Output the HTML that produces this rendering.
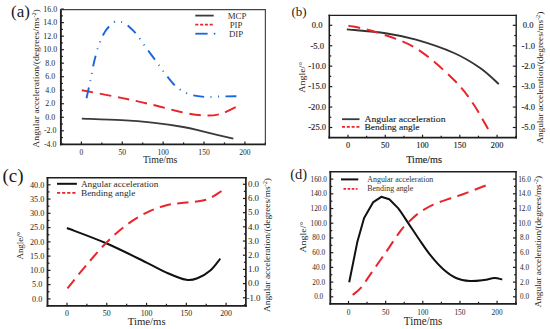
<!DOCTYPE html>
<html><head><meta charset="utf-8"><style>
html,body{margin:0;padding:0;background:#fff;}
svg{display:block;}
text{font-family:"Liberation Serif", serif;}
</style></head><body>
<svg width="550" height="329" viewBox="0 0 550 329">
<rect width="550" height="329" fill="#fff"/>
<line x1="60.9" y1="8.95" x2="60.9" y2="145.3" stroke="#1e1e1e" stroke-width="1.9"/>
<line x1="59.949999999999996" y1="144.4" x2="266.0" y2="144.4" stroke="#1e1e1e" stroke-width="1.8"/>
<line x1="59.949999999999996" y1="9.6" x2="266.0" y2="9.6" stroke="#444" stroke-width="1.3"/>
<line x1="265.4" y1="8.95" x2="265.4" y2="145.3" stroke="#4a4a4a" stroke-width="1.2"/>
<line x1="60.9" y1="144.30" x2="63.9" y2="144.30" stroke="#1e1e1e" stroke-width="1.2"/>
<line x1="60.9" y1="130.78" x2="63.9" y2="130.78" stroke="#1e1e1e" stroke-width="1.2"/>
<line x1="60.9" y1="117.26" x2="63.9" y2="117.26" stroke="#1e1e1e" stroke-width="1.2"/>
<line x1="60.9" y1="103.74" x2="63.9" y2="103.74" stroke="#1e1e1e" stroke-width="1.2"/>
<line x1="60.9" y1="90.22" x2="63.9" y2="90.22" stroke="#1e1e1e" stroke-width="1.2"/>
<line x1="60.9" y1="76.70" x2="63.9" y2="76.70" stroke="#1e1e1e" stroke-width="1.2"/>
<line x1="60.9" y1="63.18" x2="63.9" y2="63.18" stroke="#1e1e1e" stroke-width="1.2"/>
<line x1="60.9" y1="49.66" x2="63.9" y2="49.66" stroke="#1e1e1e" stroke-width="1.2"/>
<line x1="60.9" y1="36.14" x2="63.9" y2="36.14" stroke="#1e1e1e" stroke-width="1.2"/>
<line x1="60.9" y1="22.62" x2="63.9" y2="22.62" stroke="#1e1e1e" stroke-width="1.2"/>
<line x1="60.9" y1="9.10" x2="63.9" y2="9.10" stroke="#1e1e1e" stroke-width="1.2"/>
<line x1="60.9" y1="137.54" x2="62.9" y2="137.54" stroke="#1e1e1e" stroke-width="1.2"/>
<line x1="60.9" y1="124.02" x2="62.9" y2="124.02" stroke="#1e1e1e" stroke-width="1.2"/>
<line x1="60.9" y1="110.50" x2="62.9" y2="110.50" stroke="#1e1e1e" stroke-width="1.2"/>
<line x1="60.9" y1="96.98" x2="62.9" y2="96.98" stroke="#1e1e1e" stroke-width="1.2"/>
<line x1="60.9" y1="83.46" x2="62.9" y2="83.46" stroke="#1e1e1e" stroke-width="1.2"/>
<line x1="60.9" y1="69.94" x2="62.9" y2="69.94" stroke="#1e1e1e" stroke-width="1.2"/>
<line x1="60.9" y1="56.42" x2="62.9" y2="56.42" stroke="#1e1e1e" stroke-width="1.2"/>
<line x1="60.9" y1="42.90" x2="62.9" y2="42.90" stroke="#1e1e1e" stroke-width="1.2"/>
<line x1="60.9" y1="29.38" x2="62.9" y2="29.38" stroke="#1e1e1e" stroke-width="1.2"/>
<line x1="60.9" y1="15.86" x2="62.9" y2="15.86" stroke="#1e1e1e" stroke-width="1.2"/>
<line x1="81.40" y1="144.4" x2="81.40" y2="141.4" stroke="#1e1e1e" stroke-width="1.2"/>
<line x1="122.28" y1="144.4" x2="122.28" y2="141.4" stroke="#1e1e1e" stroke-width="1.2"/>
<line x1="163.15" y1="144.4" x2="163.15" y2="141.4" stroke="#1e1e1e" stroke-width="1.2"/>
<line x1="204.03" y1="144.4" x2="204.03" y2="141.4" stroke="#1e1e1e" stroke-width="1.2"/>
<line x1="244.90" y1="144.4" x2="244.90" y2="141.4" stroke="#1e1e1e" stroke-width="1.2"/>
<line x1="60.96" y1="144.4" x2="60.96" y2="142.4" stroke="#1e1e1e" stroke-width="1.2"/>
<line x1="101.84" y1="144.4" x2="101.84" y2="142.4" stroke="#1e1e1e" stroke-width="1.2"/>
<line x1="142.71" y1="144.4" x2="142.71" y2="142.4" stroke="#1e1e1e" stroke-width="1.2"/>
<line x1="183.59" y1="144.4" x2="183.59" y2="142.4" stroke="#1e1e1e" stroke-width="1.2"/>
<line x1="224.46" y1="144.4" x2="224.46" y2="142.4" stroke="#1e1e1e" stroke-width="1.2"/>
<line x1="265.34" y1="144.4" x2="265.34" y2="142.4" stroke="#1e1e1e" stroke-width="1.2"/>
<text x="50.20" y="146.80" font-size="7.4" text-anchor="middle" fill="#262626" textLength="12.51" lengthAdjust="spacingAndGlyphs" >-4.0</text>
<text x="50.20" y="133.28" font-size="7.4" text-anchor="middle" fill="#262626" textLength="12.51" lengthAdjust="spacingAndGlyphs" >-2.0</text>
<text x="50.20" y="119.76" font-size="7.4" text-anchor="middle" fill="#262626" textLength="9.88" lengthAdjust="spacingAndGlyphs" >0.0</text>
<text x="50.20" y="106.24" font-size="7.4" text-anchor="middle" fill="#262626" textLength="9.88" lengthAdjust="spacingAndGlyphs" >2.0</text>
<text x="50.20" y="92.72" font-size="7.4" text-anchor="middle" fill="#262626" textLength="9.88" lengthAdjust="spacingAndGlyphs" >4.0</text>
<text x="50.20" y="79.20" font-size="7.4" text-anchor="middle" fill="#262626" textLength="9.88" lengthAdjust="spacingAndGlyphs" >6.0</text>
<text x="50.20" y="65.68" font-size="7.4" text-anchor="middle" fill="#262626" textLength="9.88" lengthAdjust="spacingAndGlyphs" >8.0</text>
<text x="50.20" y="52.16" font-size="7.4" text-anchor="middle" fill="#262626" textLength="13.83" lengthAdjust="spacingAndGlyphs" >10.0</text>
<text x="50.20" y="38.64" font-size="7.4" text-anchor="middle" fill="#262626" textLength="13.83" lengthAdjust="spacingAndGlyphs" >12.0</text>
<text x="50.20" y="25.12" font-size="7.4" text-anchor="middle" fill="#262626" textLength="13.83" lengthAdjust="spacingAndGlyphs" >14.0</text>
<text x="50.20" y="11.60" font-size="7.4" text-anchor="middle" fill="#262626" textLength="13.83" lengthAdjust="spacingAndGlyphs" >16.0</text>
<text x="81.40" y="154.70" font-size="7.2" text-anchor="middle" fill="#262626" textLength="3.80" lengthAdjust="spacingAndGlyphs" >0</text>
<text x="122.28" y="154.70" font-size="7.2" text-anchor="middle" fill="#262626" textLength="7.60" lengthAdjust="spacingAndGlyphs" >50</text>
<text x="163.15" y="154.70" font-size="7.2" text-anchor="middle" fill="#262626" textLength="11.40" lengthAdjust="spacingAndGlyphs" >100</text>
<text x="204.03" y="154.70" font-size="7.2" text-anchor="middle" fill="#262626" textLength="11.40" lengthAdjust="spacingAndGlyphs" >150</text>
<text x="244.90" y="154.70" font-size="7.2" text-anchor="middle" fill="#262626" textLength="11.40" lengthAdjust="spacingAndGlyphs" >200</text>
<text x="160.20" y="162.90" font-size="9.4" text-anchor="middle" fill="#262626" textLength="34.50" lengthAdjust="spacingAndGlyphs" >Time/ms</text>
<text transform="translate(38.60,78.40) rotate(-90)" font-size="8.6" text-anchor="middle" fill="#262626" textLength="138.5" lengthAdjust="spacingAndGlyphs">Angular acceleration/(degrees/ms<tspan font-size="5.5" dy="-3">-2</tspan><tspan dy="3">)</tspan></text>
<text x="20.50" y="16.80" font-size="17" text-anchor="middle" fill="#1a1a1a" >(a)</text>
<line x1="195.3" y1="15.6" x2="213.7" y2="15.6" stroke="#3a3a3a" stroke-width="1.8"/>
<line x1="195.3" y1="24.6" x2="213" y2="24.6" stroke="#e8252d" stroke-width="1.8" stroke-dasharray="3,1.8"/>
<line x1="195.3" y1="33.7" x2="207.6" y2="33.7" stroke="#1a66dd" stroke-width="1.8"/>
<line x1="213.8" y1="33.7" x2="215.3" y2="33.7" stroke="#1a66dd" stroke-width="1.8"/>
<text x="237.00" y="18.80" font-size="8.8" text-anchor="middle" fill="#333" >MCP</text>
<text x="236.00" y="27.80" font-size="8.8" text-anchor="middle" fill="#333" >PIP</text>
<text x="236.00" y="37.00" font-size="8.8" text-anchor="middle" fill="#333" >DIP</text>
<path d="M81.80,118.60 C88.40,118.87 109.65,119.52 121.40,120.20 C133.15,120.88 142.00,121.57 152.30,122.70 C162.60,123.83 174.45,125.47 183.20,127.00 C191.95,128.53 196.45,129.95 204.80,131.90 C213.15,133.85 228.55,137.57 233.30,138.70" fill="none" stroke="#3a3a3a" stroke-width="1.8" stroke-linecap="butt" stroke-linejoin="round"/>
<path d="M81.80,90.20 C88.40,91.48 109.65,95.48 121.40,97.90 C133.15,100.32 142.00,102.27 152.30,104.70 C162.60,107.13 174.45,110.70 183.20,112.50 C191.95,114.30 198.62,115.25 204.80,115.50 C210.98,115.75 215.15,115.38 220.30,114.00 C225.45,112.62 233.13,108.33 235.70,107.20" fill="none" stroke="#e8252d" stroke-width="1.9" stroke-linecap="butt" stroke-linejoin="round" stroke-dasharray="11.699,6.612" stroke-dashoffset="0"/>
<path d="M86.50,98.20 C87.13,95.32 89.02,87.02 90.30,80.90 C91.58,74.78 92.68,67.75 94.20,61.50 C95.72,55.25 97.47,48.57 99.40,43.40 C101.33,38.23 103.43,33.98 105.80,30.50 C108.17,27.02 111.43,24.00 113.60,22.50 C115.77,21.00 117.18,21.45 118.80,21.50 C120.42,21.55 121.58,21.92 123.30,22.80 C125.02,23.68 126.83,24.82 129.10,26.80 C131.37,28.78 134.17,31.35 136.90,34.70 C139.63,38.05 142.27,42.45 145.50,46.90 C148.73,51.35 153.08,57.00 156.30,61.40 C159.52,65.80 161.38,69.00 164.80,73.30 C168.22,77.60 172.58,83.67 176.80,87.20 C181.02,90.73 185.45,92.88 190.10,94.50 C194.75,96.12 199.72,96.57 204.70,96.90 C209.68,97.23 214.72,96.62 220.00,96.50 C225.28,96.38 233.67,96.25 236.40,96.20" fill="none" stroke="#1a66dd" stroke-width="1.9" stroke-linecap="butt" stroke-linejoin="round" stroke-dasharray="10.987,6.492,0.999,6.492,0.999,6.492" stroke-dashoffset="0"/>
<line x1="329.3" y1="14.700000000000001" x2="329.3" y2="138.6" stroke="#1e1e1e" stroke-width="1.6"/>
<line x1="328.5" y1="137.7" x2="516.9000000000001" y2="137.7" stroke="#1e1e1e" stroke-width="1.8"/>
<line x1="328.5" y1="15.4" x2="516.9000000000001" y2="15.4" stroke="#1e1e1e" stroke-width="1.4"/>
<line x1="516.2" y1="14.700000000000001" x2="516.2" y2="138.6" stroke="#1e1e1e" stroke-width="1.4"/>
<line x1="329.3" y1="127.50" x2="332.3" y2="127.50" stroke="#1e1e1e" stroke-width="1.2"/>
<line x1="329.3" y1="107.06" x2="332.3" y2="107.06" stroke="#1e1e1e" stroke-width="1.2"/>
<line x1="329.3" y1="86.62" x2="332.3" y2="86.62" stroke="#1e1e1e" stroke-width="1.2"/>
<line x1="329.3" y1="66.18" x2="332.3" y2="66.18" stroke="#1e1e1e" stroke-width="1.2"/>
<line x1="329.3" y1="45.74" x2="332.3" y2="45.74" stroke="#1e1e1e" stroke-width="1.2"/>
<line x1="329.3" y1="25.30" x2="332.3" y2="25.30" stroke="#1e1e1e" stroke-width="1.2"/>
<line x1="329.3" y1="117.28" x2="331.3" y2="117.28" stroke="#1e1e1e" stroke-width="1.2"/>
<line x1="329.3" y1="96.84" x2="331.3" y2="96.84" stroke="#1e1e1e" stroke-width="1.2"/>
<line x1="329.3" y1="76.40" x2="331.3" y2="76.40" stroke="#1e1e1e" stroke-width="1.2"/>
<line x1="329.3" y1="55.96" x2="331.3" y2="55.96" stroke="#1e1e1e" stroke-width="1.2"/>
<line x1="329.3" y1="35.52" x2="331.3" y2="35.52" stroke="#1e1e1e" stroke-width="1.2"/>
<line x1="516.2" y1="127.50" x2="512.8000000000001" y2="127.50" stroke="#1e1e1e" stroke-width="1.2"/>
<line x1="516.2" y1="107.06" x2="512.8000000000001" y2="107.06" stroke="#1e1e1e" stroke-width="1.2"/>
<line x1="516.2" y1="86.62" x2="512.8000000000001" y2="86.62" stroke="#1e1e1e" stroke-width="1.2"/>
<line x1="516.2" y1="66.18" x2="512.8000000000001" y2="66.18" stroke="#1e1e1e" stroke-width="1.2"/>
<line x1="516.2" y1="45.74" x2="512.8000000000001" y2="45.74" stroke="#1e1e1e" stroke-width="1.2"/>
<line x1="516.2" y1="25.30" x2="512.8000000000001" y2="25.30" stroke="#1e1e1e" stroke-width="1.2"/>
<line x1="516.2" y1="117.28" x2="514.2" y2="117.28" stroke="#1e1e1e" stroke-width="1.2"/>
<line x1="516.2" y1="96.84" x2="514.2" y2="96.84" stroke="#1e1e1e" stroke-width="1.2"/>
<line x1="516.2" y1="76.40" x2="514.2" y2="76.40" stroke="#1e1e1e" stroke-width="1.2"/>
<line x1="516.2" y1="55.96" x2="514.2" y2="55.96" stroke="#1e1e1e" stroke-width="1.2"/>
<line x1="516.2" y1="35.52" x2="514.2" y2="35.52" stroke="#1e1e1e" stroke-width="1.2"/>
<line x1="348.00" y1="137.7" x2="348.00" y2="134.7" stroke="#1e1e1e" stroke-width="1.2"/>
<line x1="385.27" y1="137.7" x2="385.27" y2="134.7" stroke="#1e1e1e" stroke-width="1.2"/>
<line x1="422.55" y1="137.7" x2="422.55" y2="134.7" stroke="#1e1e1e" stroke-width="1.2"/>
<line x1="459.82" y1="137.7" x2="459.82" y2="134.7" stroke="#1e1e1e" stroke-width="1.2"/>
<line x1="497.10" y1="137.7" x2="497.10" y2="134.7" stroke="#1e1e1e" stroke-width="1.2"/>
<line x1="329.36" y1="137.7" x2="329.36" y2="135.7" stroke="#1e1e1e" stroke-width="1.2"/>
<line x1="366.64" y1="137.7" x2="366.64" y2="135.7" stroke="#1e1e1e" stroke-width="1.2"/>
<line x1="403.91" y1="137.7" x2="403.91" y2="135.7" stroke="#1e1e1e" stroke-width="1.2"/>
<line x1="441.19" y1="137.7" x2="441.19" y2="135.7" stroke="#1e1e1e" stroke-width="1.2"/>
<line x1="478.46" y1="137.7" x2="478.46" y2="135.7" stroke="#1e1e1e" stroke-width="1.2"/>
<line x1="515.74" y1="137.7" x2="515.74" y2="135.7" stroke="#1e1e1e" stroke-width="1.2"/>
<text x="317.20" y="130.30" font-size="8.3" text-anchor="middle" fill="#262626" textLength="17.91" lengthAdjust="spacingAndGlyphs" stroke="#262626" stroke-width="0.15">-25.0</text>
<text x="317.20" y="109.86" font-size="8.3" text-anchor="middle" fill="#262626" textLength="17.91" lengthAdjust="spacingAndGlyphs" stroke="#262626" stroke-width="0.15">-20.0</text>
<text x="317.20" y="89.42" font-size="8.3" text-anchor="middle" fill="#262626" textLength="17.91" lengthAdjust="spacingAndGlyphs" stroke="#262626" stroke-width="0.15">-15.0</text>
<text x="317.20" y="68.98" font-size="8.3" text-anchor="middle" fill="#262626" textLength="17.91" lengthAdjust="spacingAndGlyphs" stroke="#262626" stroke-width="0.15">-10.0</text>
<text x="317.20" y="48.54" font-size="8.3" text-anchor="middle" fill="#262626" textLength="13.61" lengthAdjust="spacingAndGlyphs" stroke="#262626" stroke-width="0.15">-5.0</text>
<text x="317.20" y="28.10" font-size="8.3" text-anchor="middle" fill="#262626" textLength="10.75" lengthAdjust="spacingAndGlyphs" stroke="#262626" stroke-width="0.15">0.0</text>
<text x="528.20" y="130.30" font-size="8.3" text-anchor="middle" fill="#262626" textLength="13.61" lengthAdjust="spacingAndGlyphs" stroke="#262626" stroke-width="0.15">-5.0</text>
<text x="528.20" y="109.86" font-size="8.3" text-anchor="middle" fill="#262626" textLength="13.61" lengthAdjust="spacingAndGlyphs" stroke="#262626" stroke-width="0.15">-4.0</text>
<text x="528.20" y="89.42" font-size="8.3" text-anchor="middle" fill="#262626" textLength="13.61" lengthAdjust="spacingAndGlyphs" stroke="#262626" stroke-width="0.15">-3.0</text>
<text x="528.20" y="68.98" font-size="8.3" text-anchor="middle" fill="#262626" textLength="13.61" lengthAdjust="spacingAndGlyphs" stroke="#262626" stroke-width="0.15">-2.0</text>
<text x="528.20" y="48.54" font-size="8.3" text-anchor="middle" fill="#262626" textLength="13.61" lengthAdjust="spacingAndGlyphs" stroke="#262626" stroke-width="0.15">-1.0</text>
<text x="528.20" y="28.10" font-size="8.3" text-anchor="middle" fill="#262626" textLength="10.75" lengthAdjust="spacingAndGlyphs" stroke="#262626" stroke-width="0.15">0.0</text>
<text x="348.00" y="147.80" font-size="8.3" text-anchor="middle" fill="#262626" stroke="#262626" stroke-width="0.15">0</text>
<text x="385.27" y="147.80" font-size="8.3" text-anchor="middle" fill="#262626" stroke="#262626" stroke-width="0.15">50</text>
<text x="422.55" y="147.80" font-size="8.3" text-anchor="middle" fill="#262626" stroke="#262626" stroke-width="0.15">100</text>
<text x="459.82" y="147.80" font-size="8.3" text-anchor="middle" fill="#262626" stroke="#262626" stroke-width="0.15">150</text>
<text x="497.10" y="147.80" font-size="8.3" text-anchor="middle" fill="#262626" stroke="#262626" stroke-width="0.15">200</text>
<text x="424.10" y="162.70" font-size="9.8" text-anchor="middle" fill="#262626" textLength="35.60" lengthAdjust="spacingAndGlyphs" stroke="#262626" stroke-width="0.15">Time/ms</text>
<text transform="translate(305.00,77.20) rotate(-90)" font-size="8.2" text-anchor="middle" fill="#262626" textLength="31" lengthAdjust="spacingAndGlyphs">Angle/°</text>
<text transform="translate(542.60,77.60) rotate(-90)" font-size="7.9" text-anchor="middle" fill="#262626" textLength="132" lengthAdjust="spacingAndGlyphs">Angular acceleration/(degrees/ms<tspan font-size="5.5" dy="-3">-2</tspan><tspan dy="3">)</tspan></text>
<text x="299.00" y="15.60" font-size="13" text-anchor="middle" fill="#1a1a1a" >(b)</text>
<line x1="342" y1="119.2" x2="359.5" y2="119.2" stroke="#3a3a3a" stroke-width="1.8"/>
<line x1="342" y1="126.8" x2="359.5" y2="126.8" stroke="#e8252d" stroke-width="1.8" stroke-dasharray="3,1.8"/>
<text x="364.50" y="122.20" font-size="8.6" text-anchor="start" fill="#262626" textLength="81.00" lengthAdjust="spacingAndGlyphs" stroke="#262626" stroke-width="0.12">Angular acceleration</text>
<text x="364.50" y="129.80" font-size="8.6" text-anchor="start" fill="#262626" textLength="55.00" lengthAdjust="spacingAndGlyphs" stroke="#262626" stroke-width="0.12">Bending angle</text>
<path d="M346.80,29.40 C353.27,30.03 374.07,31.48 385.60,33.20 C397.13,34.92 404.60,36.40 416.00,39.70 C427.40,43.00 443.25,48.25 454.00,53.00 C464.75,57.75 473.03,63.02 480.50,68.20 C487.97,73.38 495.75,81.45 498.80,84.10" fill="none" stroke="#333" stroke-width="1.9" stroke-linecap="butt" stroke-linejoin="round"/>
<path d="M348.40,25.60 C353.00,26.68 364.73,28.33 376.00,32.10 C387.27,35.87 403.00,40.22 416.00,48.20 C429.00,56.18 444.50,70.78 454.00,80.00 C463.50,89.22 467.32,95.33 473.00,103.50 C478.68,111.67 485.58,124.75 488.10,129.00" fill="none" stroke="#e8252d" stroke-width="2.0" stroke-linecap="butt" stroke-linejoin="round" stroke-dasharray="12.009,6.788" stroke-dashoffset="0"/>
<line x1="47.5" y1="177.0" x2="47.5" y2="306.7" stroke="#1e1e1e" stroke-width="1.8"/>
<line x1="46.6" y1="305.8" x2="246.75" y2="305.8" stroke="#1e1e1e" stroke-width="1.8"/>
<line x1="46.6" y1="177.8" x2="246.75" y2="177.8" stroke="#1e1e1e" stroke-width="1.6"/>
<line x1="245.9" y1="177.0" x2="245.9" y2="306.7" stroke="#1e1e1e" stroke-width="1.7"/>
<line x1="47.5" y1="298.90" x2="50.5" y2="298.90" stroke="#1e1e1e" stroke-width="1.2"/>
<line x1="47.5" y1="284.64" x2="50.5" y2="284.64" stroke="#1e1e1e" stroke-width="1.2"/>
<line x1="47.5" y1="270.38" x2="50.5" y2="270.38" stroke="#1e1e1e" stroke-width="1.2"/>
<line x1="47.5" y1="256.11" x2="50.5" y2="256.11" stroke="#1e1e1e" stroke-width="1.2"/>
<line x1="47.5" y1="241.85" x2="50.5" y2="241.85" stroke="#1e1e1e" stroke-width="1.2"/>
<line x1="47.5" y1="227.59" x2="50.5" y2="227.59" stroke="#1e1e1e" stroke-width="1.2"/>
<line x1="47.5" y1="213.32" x2="50.5" y2="213.32" stroke="#1e1e1e" stroke-width="1.2"/>
<line x1="47.5" y1="199.06" x2="50.5" y2="199.06" stroke="#1e1e1e" stroke-width="1.2"/>
<line x1="47.5" y1="184.80" x2="50.5" y2="184.80" stroke="#1e1e1e" stroke-width="1.2"/>
<line x1="47.5" y1="291.77" x2="49.5" y2="291.77" stroke="#1e1e1e" stroke-width="1.2"/>
<line x1="47.5" y1="277.51" x2="49.5" y2="277.51" stroke="#1e1e1e" stroke-width="1.2"/>
<line x1="47.5" y1="263.24" x2="49.5" y2="263.24" stroke="#1e1e1e" stroke-width="1.2"/>
<line x1="47.5" y1="248.98" x2="49.5" y2="248.98" stroke="#1e1e1e" stroke-width="1.2"/>
<line x1="47.5" y1="234.72" x2="49.5" y2="234.72" stroke="#1e1e1e" stroke-width="1.2"/>
<line x1="47.5" y1="220.46" x2="49.5" y2="220.46" stroke="#1e1e1e" stroke-width="1.2"/>
<line x1="47.5" y1="206.19" x2="49.5" y2="206.19" stroke="#1e1e1e" stroke-width="1.2"/>
<line x1="47.5" y1="191.93" x2="49.5" y2="191.93" stroke="#1e1e1e" stroke-width="1.2"/>
<line x1="245.9" y1="297.79" x2="242.9" y2="297.79" stroke="#1e1e1e" stroke-width="1.2"/>
<line x1="245.9" y1="283.60" x2="242.9" y2="283.60" stroke="#1e1e1e" stroke-width="1.2"/>
<line x1="245.9" y1="269.41" x2="242.9" y2="269.41" stroke="#1e1e1e" stroke-width="1.2"/>
<line x1="245.9" y1="255.22" x2="242.9" y2="255.22" stroke="#1e1e1e" stroke-width="1.2"/>
<line x1="245.9" y1="241.03" x2="242.9" y2="241.03" stroke="#1e1e1e" stroke-width="1.2"/>
<line x1="245.9" y1="226.84" x2="242.9" y2="226.84" stroke="#1e1e1e" stroke-width="1.2"/>
<line x1="245.9" y1="212.65" x2="242.9" y2="212.65" stroke="#1e1e1e" stroke-width="1.2"/>
<line x1="245.9" y1="198.46" x2="242.9" y2="198.46" stroke="#1e1e1e" stroke-width="1.2"/>
<line x1="245.9" y1="184.27" x2="242.9" y2="184.27" stroke="#1e1e1e" stroke-width="1.2"/>
<line x1="245.9" y1="304.89" x2="243.9" y2="304.89" stroke="#1e1e1e" stroke-width="1.2"/>
<line x1="245.9" y1="290.70" x2="243.9" y2="290.70" stroke="#1e1e1e" stroke-width="1.2"/>
<line x1="245.9" y1="276.50" x2="243.9" y2="276.50" stroke="#1e1e1e" stroke-width="1.2"/>
<line x1="245.9" y1="262.31" x2="243.9" y2="262.31" stroke="#1e1e1e" stroke-width="1.2"/>
<line x1="245.9" y1="248.13" x2="243.9" y2="248.13" stroke="#1e1e1e" stroke-width="1.2"/>
<line x1="245.9" y1="233.94" x2="243.9" y2="233.94" stroke="#1e1e1e" stroke-width="1.2"/>
<line x1="245.9" y1="219.75" x2="243.9" y2="219.75" stroke="#1e1e1e" stroke-width="1.2"/>
<line x1="245.9" y1="205.56" x2="243.9" y2="205.56" stroke="#1e1e1e" stroke-width="1.2"/>
<line x1="245.9" y1="191.37" x2="243.9" y2="191.37" stroke="#1e1e1e" stroke-width="1.2"/>
<line x1="67.00" y1="305.8" x2="67.00" y2="302.8" stroke="#1e1e1e" stroke-width="1.2"/>
<line x1="106.78" y1="305.8" x2="106.78" y2="302.8" stroke="#1e1e1e" stroke-width="1.2"/>
<line x1="146.55" y1="305.8" x2="146.55" y2="302.8" stroke="#1e1e1e" stroke-width="1.2"/>
<line x1="186.32" y1="305.8" x2="186.32" y2="302.8" stroke="#1e1e1e" stroke-width="1.2"/>
<line x1="226.10" y1="305.8" x2="226.10" y2="302.8" stroke="#1e1e1e" stroke-width="1.2"/>
<line x1="86.89" y1="305.8" x2="86.89" y2="303.8" stroke="#1e1e1e" stroke-width="1.2"/>
<line x1="126.66" y1="305.8" x2="126.66" y2="303.8" stroke="#1e1e1e" stroke-width="1.2"/>
<line x1="166.44" y1="305.8" x2="166.44" y2="303.8" stroke="#1e1e1e" stroke-width="1.2"/>
<line x1="206.21" y1="305.8" x2="206.21" y2="303.8" stroke="#1e1e1e" stroke-width="1.2"/>
<text x="37.20" y="301.70" font-size="7.9" text-anchor="middle" fill="#262626" textLength="10.25" lengthAdjust="spacingAndGlyphs" >0.0</text>
<text x="37.20" y="287.44" font-size="7.9" text-anchor="middle" fill="#262626" textLength="10.25" lengthAdjust="spacingAndGlyphs" >5.0</text>
<text x="37.20" y="273.18" font-size="7.9" text-anchor="middle" fill="#262626" textLength="14.35" lengthAdjust="spacingAndGlyphs" >10.0</text>
<text x="37.20" y="258.91" font-size="7.9" text-anchor="middle" fill="#262626" textLength="14.35" lengthAdjust="spacingAndGlyphs" >15.0</text>
<text x="37.20" y="244.65" font-size="7.9" text-anchor="middle" fill="#262626" textLength="14.35" lengthAdjust="spacingAndGlyphs" >20.0</text>
<text x="37.20" y="230.39" font-size="7.9" text-anchor="middle" fill="#262626" textLength="14.35" lengthAdjust="spacingAndGlyphs" >25.0</text>
<text x="37.20" y="216.12" font-size="7.9" text-anchor="middle" fill="#262626" textLength="14.35" lengthAdjust="spacingAndGlyphs" >30.0</text>
<text x="37.20" y="201.86" font-size="7.9" text-anchor="middle" fill="#262626" textLength="14.35" lengthAdjust="spacingAndGlyphs" >35.0</text>
<text x="37.20" y="187.60" font-size="7.9" text-anchor="middle" fill="#262626" textLength="14.35" lengthAdjust="spacingAndGlyphs" >40.0</text>
<text x="253.50" y="300.59" font-size="7.9" text-anchor="middle" fill="#262626" textLength="14.09" lengthAdjust="spacingAndGlyphs" >-1.0</text>
<text x="253.50" y="286.40" font-size="7.9" text-anchor="middle" fill="#262626" textLength="11.12" lengthAdjust="spacingAndGlyphs" >0.0</text>
<text x="253.50" y="272.21" font-size="7.9" text-anchor="middle" fill="#262626" textLength="11.12" lengthAdjust="spacingAndGlyphs" >1.0</text>
<text x="253.50" y="258.02" font-size="7.9" text-anchor="middle" fill="#262626" textLength="11.12" lengthAdjust="spacingAndGlyphs" >2.0</text>
<text x="253.50" y="243.83" font-size="7.9" text-anchor="middle" fill="#262626" textLength="11.12" lengthAdjust="spacingAndGlyphs" >3.0</text>
<text x="253.50" y="229.64" font-size="7.9" text-anchor="middle" fill="#262626" textLength="11.12" lengthAdjust="spacingAndGlyphs" >4.0</text>
<text x="253.50" y="215.45" font-size="7.9" text-anchor="middle" fill="#262626" textLength="11.12" lengthAdjust="spacingAndGlyphs" >5.0</text>
<text x="253.50" y="201.26" font-size="7.9" text-anchor="middle" fill="#262626" textLength="11.12" lengthAdjust="spacingAndGlyphs" >6.0</text>
<text x="253.50" y="187.07" font-size="7.9" text-anchor="middle" fill="#262626" textLength="11.12" lengthAdjust="spacingAndGlyphs" >0.0</text>
<text x="67.00" y="315.70" font-size="7.9" text-anchor="middle" fill="#262626" >0</text>
<text x="106.78" y="315.70" font-size="7.9" text-anchor="middle" fill="#262626" >50</text>
<text x="146.55" y="315.70" font-size="7.9" text-anchor="middle" fill="#262626" >100</text>
<text x="186.32" y="315.70" font-size="7.9" text-anchor="middle" fill="#262626" >150</text>
<text x="226.10" y="315.70" font-size="7.9" text-anchor="middle" fill="#262626" >200</text>
<text x="146.70" y="325.10" font-size="10" text-anchor="middle" fill="#262626" textLength="37.80" lengthAdjust="spacingAndGlyphs" >Time/ms</text>
<text transform="translate(22.60,245.60) rotate(-90)" font-size="7.2" text-anchor="middle" fill="#262626" textLength="28" lengthAdjust="spacingAndGlyphs">Angle/°</text>
<text transform="translate(270.20,245.00) rotate(-90)" font-size="8.1" text-anchor="middle" fill="#262626" textLength="134" lengthAdjust="spacingAndGlyphs">Angular acceleration/(degrees/ms<tspan font-size="5.5" dy="-3">-2</tspan><tspan dy="3">)</tspan></text>
<text x="13.00" y="182.20" font-size="19" text-anchor="middle" fill="#1a1a1a" >(c)</text>
<line x1="57" y1="183.8" x2="76.9" y2="183.8" stroke="#111" stroke-width="2"/>
<line x1="57" y1="192.9" x2="76.9" y2="192.9" stroke="#e8252d" stroke-width="1.8" stroke-dasharray="3.2,1.9"/>
<text x="80.90" y="187.40" font-size="9.0" text-anchor="start" fill="#2a2a2a" textLength="77.50" lengthAdjust="spacingAndGlyphs" >Angular acceleration</text>
<text x="80.90" y="196.30" font-size="9.0" text-anchor="start" fill="#2a2a2a" textLength="54.50" lengthAdjust="spacingAndGlyphs" >Bending angle</text>
<path d="M66.90,228.00 C73.55,230.58 93.52,237.73 106.80,243.50 C120.08,249.27 136.65,257.75 146.60,262.60 C156.55,267.45 159.87,269.73 166.50,272.60 C173.13,275.47 181.08,278.93 186.40,279.80 C191.72,280.67 194.42,279.33 198.40,277.80 C202.38,276.27 206.65,273.78 210.30,270.60 C213.95,267.42 218.63,260.68 220.30,258.70" fill="none" stroke="#111" stroke-width="2.0" stroke-linecap="butt" stroke-linejoin="round"/>
<path d="M67.50,288.30 C70.72,284.35 80.25,272.28 86.80,264.60 C93.35,256.92 100.15,248.83 106.80,242.20 C113.45,235.57 120.07,229.73 126.70,224.80 C133.33,219.87 139.97,215.87 146.60,212.60 C153.23,209.33 159.87,206.87 166.50,205.20 C173.13,203.53 179.75,203.52 186.40,202.60 C193.05,201.68 200.55,201.63 206.40,199.70 C212.25,197.77 218.98,192.45 221.50,191.00" fill="none" stroke="#e8252d" stroke-width="2.0" stroke-linecap="butt" stroke-linejoin="round" stroke-dasharray="11.381,6.433" stroke-dashoffset="0"/>
<line x1="330.3" y1="171.05" x2="330.3" y2="304.7" stroke="#1e1e1e" stroke-width="1.8"/>
<line x1="329.40000000000003" y1="303.8" x2="516.75" y2="303.8" stroke="#1e1e1e" stroke-width="1.8"/>
<line x1="329.40000000000003" y1="171.8" x2="516.75" y2="171.8" stroke="#1e1e1e" stroke-width="1.5"/>
<line x1="516.0" y1="171.05" x2="516.0" y2="304.7" stroke="#1e1e1e" stroke-width="1.5"/>
<line x1="330.3" y1="296.80" x2="333.3" y2="296.80" stroke="#1e1e1e" stroke-width="1.2"/>
<line x1="330.3" y1="282.09" x2="333.3" y2="282.09" stroke="#1e1e1e" stroke-width="1.2"/>
<line x1="330.3" y1="267.38" x2="333.3" y2="267.38" stroke="#1e1e1e" stroke-width="1.2"/>
<line x1="330.3" y1="252.66" x2="333.3" y2="252.66" stroke="#1e1e1e" stroke-width="1.2"/>
<line x1="330.3" y1="237.95" x2="333.3" y2="237.95" stroke="#1e1e1e" stroke-width="1.2"/>
<line x1="330.3" y1="223.24" x2="333.3" y2="223.24" stroke="#1e1e1e" stroke-width="1.2"/>
<line x1="330.3" y1="208.53" x2="333.3" y2="208.53" stroke="#1e1e1e" stroke-width="1.2"/>
<line x1="330.3" y1="193.82" x2="333.3" y2="193.82" stroke="#1e1e1e" stroke-width="1.2"/>
<line x1="330.3" y1="179.10" x2="333.3" y2="179.10" stroke="#1e1e1e" stroke-width="1.2"/>
<line x1="330.3" y1="289.44" x2="332.3" y2="289.44" stroke="#1e1e1e" stroke-width="1.2"/>
<line x1="330.3" y1="274.73" x2="332.3" y2="274.73" stroke="#1e1e1e" stroke-width="1.2"/>
<line x1="330.3" y1="260.02" x2="332.3" y2="260.02" stroke="#1e1e1e" stroke-width="1.2"/>
<line x1="330.3" y1="245.31" x2="332.3" y2="245.31" stroke="#1e1e1e" stroke-width="1.2"/>
<line x1="330.3" y1="230.60" x2="332.3" y2="230.60" stroke="#1e1e1e" stroke-width="1.2"/>
<line x1="330.3" y1="215.88" x2="332.3" y2="215.88" stroke="#1e1e1e" stroke-width="1.2"/>
<line x1="330.3" y1="201.17" x2="332.3" y2="201.17" stroke="#1e1e1e" stroke-width="1.2"/>
<line x1="330.3" y1="186.46" x2="332.3" y2="186.46" stroke="#1e1e1e" stroke-width="1.2"/>
<line x1="516.0" y1="296.80" x2="513.0" y2="296.80" stroke="#1e1e1e" stroke-width="1.2"/>
<line x1="516.0" y1="282.09" x2="513.0" y2="282.09" stroke="#1e1e1e" stroke-width="1.2"/>
<line x1="516.0" y1="267.38" x2="513.0" y2="267.38" stroke="#1e1e1e" stroke-width="1.2"/>
<line x1="516.0" y1="252.66" x2="513.0" y2="252.66" stroke="#1e1e1e" stroke-width="1.2"/>
<line x1="516.0" y1="237.95" x2="513.0" y2="237.95" stroke="#1e1e1e" stroke-width="1.2"/>
<line x1="516.0" y1="223.24" x2="513.0" y2="223.24" stroke="#1e1e1e" stroke-width="1.2"/>
<line x1="516.0" y1="208.53" x2="513.0" y2="208.53" stroke="#1e1e1e" stroke-width="1.2"/>
<line x1="516.0" y1="193.82" x2="513.0" y2="193.82" stroke="#1e1e1e" stroke-width="1.2"/>
<line x1="516.0" y1="179.10" x2="513.0" y2="179.10" stroke="#1e1e1e" stroke-width="1.2"/>
<line x1="516.0" y1="289.44" x2="514.0" y2="289.44" stroke="#1e1e1e" stroke-width="1.2"/>
<line x1="516.0" y1="274.73" x2="514.0" y2="274.73" stroke="#1e1e1e" stroke-width="1.2"/>
<line x1="516.0" y1="260.02" x2="514.0" y2="260.02" stroke="#1e1e1e" stroke-width="1.2"/>
<line x1="516.0" y1="245.31" x2="514.0" y2="245.31" stroke="#1e1e1e" stroke-width="1.2"/>
<line x1="516.0" y1="230.60" x2="514.0" y2="230.60" stroke="#1e1e1e" stroke-width="1.2"/>
<line x1="516.0" y1="215.88" x2="514.0" y2="215.88" stroke="#1e1e1e" stroke-width="1.2"/>
<line x1="516.0" y1="201.17" x2="514.0" y2="201.17" stroke="#1e1e1e" stroke-width="1.2"/>
<line x1="516.0" y1="186.46" x2="514.0" y2="186.46" stroke="#1e1e1e" stroke-width="1.2"/>
<line x1="348.50" y1="303.8" x2="348.50" y2="300.8" stroke="#1e1e1e" stroke-width="1.2"/>
<line x1="385.65" y1="303.8" x2="385.65" y2="300.8" stroke="#1e1e1e" stroke-width="1.2"/>
<line x1="422.80" y1="303.8" x2="422.80" y2="300.8" stroke="#1e1e1e" stroke-width="1.2"/>
<line x1="459.95" y1="303.8" x2="459.95" y2="300.8" stroke="#1e1e1e" stroke-width="1.2"/>
<line x1="497.10" y1="303.8" x2="497.10" y2="300.8" stroke="#1e1e1e" stroke-width="1.2"/>
<line x1="367.07" y1="303.8" x2="367.07" y2="301.8" stroke="#1e1e1e" stroke-width="1.2"/>
<line x1="404.23" y1="303.8" x2="404.23" y2="301.8" stroke="#1e1e1e" stroke-width="1.2"/>
<line x1="441.38" y1="303.8" x2="441.38" y2="301.8" stroke="#1e1e1e" stroke-width="1.2"/>
<line x1="478.52" y1="303.8" x2="478.52" y2="301.8" stroke="#1e1e1e" stroke-width="1.2"/>
<line x1="515.67" y1="303.8" x2="515.67" y2="301.8" stroke="#1e1e1e" stroke-width="1.2"/>
<text x="318.70" y="299.30" font-size="7.4" text-anchor="middle" fill="#262626" textLength="9.12" lengthAdjust="spacingAndGlyphs" >0.0</text>
<text x="524.60" y="299.30" font-size="7.4" text-anchor="middle" fill="#262626" textLength="9.12" lengthAdjust="spacingAndGlyphs" >0.0</text>
<text x="318.70" y="284.59" font-size="7.4" text-anchor="middle" fill="#262626" textLength="12.78" lengthAdjust="spacingAndGlyphs" >20.0</text>
<text x="524.60" y="284.59" font-size="7.4" text-anchor="middle" fill="#262626" textLength="9.12" lengthAdjust="spacingAndGlyphs" >2.0</text>
<text x="318.70" y="269.88" font-size="7.4" text-anchor="middle" fill="#262626" textLength="12.78" lengthAdjust="spacingAndGlyphs" >40.0</text>
<text x="524.60" y="269.88" font-size="7.4" text-anchor="middle" fill="#262626" textLength="9.12" lengthAdjust="spacingAndGlyphs" >4.0</text>
<text x="318.70" y="255.16" font-size="7.4" text-anchor="middle" fill="#262626" textLength="12.78" lengthAdjust="spacingAndGlyphs" >60.0</text>
<text x="524.60" y="255.16" font-size="7.4" text-anchor="middle" fill="#262626" textLength="9.12" lengthAdjust="spacingAndGlyphs" >6.0</text>
<text x="318.70" y="240.45" font-size="7.4" text-anchor="middle" fill="#262626" textLength="12.78" lengthAdjust="spacingAndGlyphs" >80.0</text>
<text x="524.60" y="240.45" font-size="7.4" text-anchor="middle" fill="#262626" textLength="9.12" lengthAdjust="spacingAndGlyphs" >8.0</text>
<text x="318.70" y="225.74" font-size="7.4" text-anchor="middle" fill="#262626" textLength="16.43" lengthAdjust="spacingAndGlyphs" >100.0</text>
<text x="524.60" y="225.74" font-size="7.4" text-anchor="middle" fill="#262626" textLength="12.78" lengthAdjust="spacingAndGlyphs" >10.0</text>
<text x="318.70" y="211.03" font-size="7.4" text-anchor="middle" fill="#262626" textLength="16.43" lengthAdjust="spacingAndGlyphs" >120.0</text>
<text x="524.60" y="211.03" font-size="7.4" text-anchor="middle" fill="#262626" textLength="12.78" lengthAdjust="spacingAndGlyphs" >12.0</text>
<text x="318.70" y="196.32" font-size="7.4" text-anchor="middle" fill="#262626" textLength="16.43" lengthAdjust="spacingAndGlyphs" >140.0</text>
<text x="524.60" y="196.32" font-size="7.4" text-anchor="middle" fill="#262626" textLength="12.78" lengthAdjust="spacingAndGlyphs" >14.0</text>
<text x="318.70" y="181.60" font-size="7.4" text-anchor="middle" fill="#262626" textLength="16.43" lengthAdjust="spacingAndGlyphs" >160.0</text>
<text x="524.60" y="181.60" font-size="7.4" text-anchor="middle" fill="#262626" textLength="12.78" lengthAdjust="spacingAndGlyphs" >16.0</text>
<text x="348.50" y="315.40" font-size="7.4" text-anchor="middle" fill="#262626" >0</text>
<text x="385.65" y="315.40" font-size="7.4" text-anchor="middle" fill="#262626" >50</text>
<text x="422.80" y="315.40" font-size="7.4" text-anchor="middle" fill="#262626" >100</text>
<text x="459.95" y="315.40" font-size="7.4" text-anchor="middle" fill="#262626" >150</text>
<text x="497.10" y="315.40" font-size="7.4" text-anchor="middle" fill="#262626" >200</text>
<text x="423.10" y="324.60" font-size="11.6" text-anchor="middle" fill="#262626" textLength="38.50" lengthAdjust="spacingAndGlyphs" >Time/ms</text>
<text transform="translate(306.20,237.10) rotate(-90)" font-size="7.8" text-anchor="middle" fill="#262626" textLength="31" lengthAdjust="spacingAndGlyphs">Angle/°</text>
<text transform="translate(541.30,241.60) rotate(-90)" font-size="7.7" text-anchor="middle" fill="#262626" textLength="131.5" lengthAdjust="spacingAndGlyphs">Angular acceleration/(degrees/ms<tspan font-size="5.5" dy="-3">-2</tspan><tspan dy="3">)</tspan></text>
<text x="298.70" y="179.10" font-size="14.5" text-anchor="middle" fill="#1a1a1a" >(d)</text>
<line x1="341" y1="179.4" x2="358.3" y2="179.4" stroke="#111" stroke-width="2"/>
<line x1="343.5" y1="188.8" x2="357.5" y2="188.8" stroke="#e8252d" stroke-width="1.8" stroke-dasharray="2.6,1.5"/>
<text x="367.30" y="182.20" font-size="8.0" text-anchor="start" fill="#333" textLength="66.00" lengthAdjust="spacingAndGlyphs" >Angular acceleration</text>
<text x="367.30" y="191.40" font-size="8.0" text-anchor="start" fill="#333" textLength="46.00" lengthAdjust="spacingAndGlyphs" >Bending angle</text>
<path d="M349.20,282.20 L357.30,242.10 L364.10,218.10 L373.30,202.10 L381.30,196.80 L389.30,199.30 L398.10,208.10 C401.37,212.23 405.47,219.00 408.90,224.10 412.33,229.20 415.05,233.43 418.70,238.70 422.35,243.97 426.75,250.65 430.80,255.70 434.85,260.75 438.80,265.28 443.00,269.00 447.20,272.72 451.50,276.00 456.00,278.00 460.50,280.00 465.33,280.67 470.00,281.00 474.67,281.33 479.93,280.50 484.00,280.00 488.07,279.50 491.35,278.08 494.40,278.00 497.45,277.92 500.98,279.25 502.30,279.50" fill="none" stroke="#111" stroke-width="2.0" stroke-linejoin="round"/>
<path d="M352.80,294.90 C354.22,293.65 358.28,290.95 361.30,287.40 C364.32,283.85 366.95,279.25 370.90,273.60 C374.85,267.95 380.22,260.42 385.00,253.50 C389.78,246.58 396.02,237.00 399.60,232.10 C403.18,227.20 403.32,227.27 406.50,224.10 C409.68,220.93 414.23,216.35 418.70,213.10 C423.17,209.85 428.08,207.03 433.30,204.60 C438.52,202.17 445.05,200.23 450.00,198.50 C454.95,196.77 457.05,196.37 463.00,194.20 C468.95,192.03 481.92,186.95 485.70,185.50" fill="none" stroke="#e8252d" stroke-width="2.0" stroke-linecap="butt" stroke-linejoin="round" stroke-dasharray="11.823,6.683" stroke-dashoffset="0"/>
</svg>
</body></html>
